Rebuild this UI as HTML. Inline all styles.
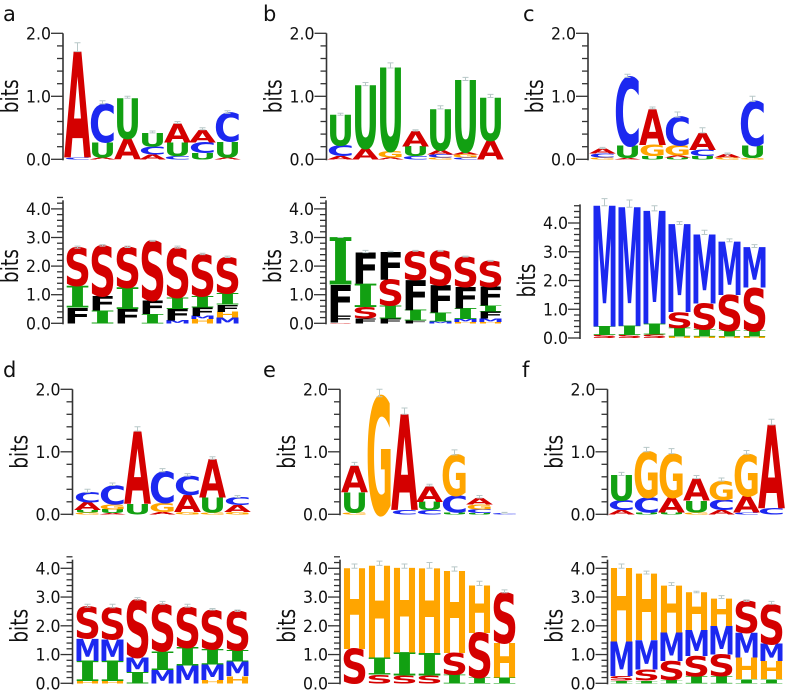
<!DOCTYPE html>
<html><head><meta charset="utf-8">
<style>
html,body{margin:0;padding:0;background:#fff;}
svg{display:block;}
</style></head>
<body>
<svg id="fig" width="785" height="691" viewBox="0 0 785 691" xmlns="http://www.w3.org/2000/svg"></svg>
<script>
// ---- data: letters (bottom -> top), heights in bits, error-bar tops ----
const aRnaLetters = [["C","A"],["A","U","C"],["A","U"],["A","C","U"],["C","U","A"],["U","C","A"],["A","U","C"]];
const aRnaHeights = [[.03,1.68],[.03,.24,.61],[.33,.64],[.08,.12,.22],[.05,.22,.3],[.1,.17,.2],[.03,.25,.45]];
const aRnaErr = [1.85,.93,1.0,.45,.6,.5,.77];
const aStrLetters = [["F","I","S"],["I","F","S"],["F","I","S"],["I","F","S"],["M","F","I","S"],["H","M","F","I","S"],["M","H","F","I","S"]];
const aStrHeights = [[.55,.75,1.33],[.45,.5,1.75],[.5,.75,1.4],[.33,.47,2.07],[.1,.4,.4,1.73],[.15,.1,.3,.4,1.45],[.2,.2,.25,.4,1.25]];
const aStrErr = [2.7,2.75,2.7,2.9,2.7,2.45,2.35];

const bRnaLetters = [["A","C","U"],["A","U"],["A","G","U"],["C","U","A"],["G","C","A","U"],["C","G","A","U"],["A","U"]];
const bRnaHeights = [[.05,.17,.48],[.17,1.0],[.03,.1,1.32],[.05,.15,.25],[.03,.05,.07,.65],[.03,.05,.04,1.13],[.3,.68]];
const bRnaErr = [.73,1.22,1.53,.47,.85,1.3,1.03];
const bStrLetters = [["S","F","F","I"],["F","S","I","F"],["F","I","S","F"],["F","I","F","S"],["M","I","F","S"],["H","M","I","F","S"],["H","M","F","I","F","S"]];
const bStrHeights = [[.03,.25,1.07,1.65],[.17,.4,.8,1.1],[.17,.45,.9,.98],[.1,.37,1.05,1.0],[.07,.3,.95,1.2],[.05,.1,.37,.75,1.05],[.05,.12,.25,.2,.65,.9]];
const bStrErr = [3.0,2.55,2.52,2.55,2.55,2.35,2.2];

const cRnaLetters = [["G","C","A"],["A","U","C"],["U","G","A"],["U","A","G","C"],["U","C","A"],["G","A"],["G","U","C"]];
const cRnaHeights = [[.03,.06,.08],[.02,.2,1.08],[.05,.18,.57],[.03,.03,.16,.45],[.05,.1,.27],[.03,.05],[.02,.2,.7]];
const cRnaErr = [.19,1.35,.83,.75,.5,.1,1.0];
const cStrLetters = [["S","I","M"],["S","I","M"],["S","I","M"],["H","I","S","M"],["H","I","S","M"],["H","I","S","M"],["H","I","S","M"]];
const cStrHeights = [[.1,.3,4.2],[.1,.32,4.13],[.12,.38,3.92],[.05,.3,.55,3.05],[.05,.25,.9,2.4],[.05,.2,1.25,1.85],[.05,.2,1.5,1.4]];
const cStrErr = [4.85,4.8,4.6,4.05,3.75,3.45,3.25];

const dRnaLetters = [["G","U","A","C"],["A","U","G","C"],["U","A"],["A","G","C"],["G","A","C"],["G","U","A"],["G","A","C"]];
const dRnaHeights = [[.03,.04,.12,.16],[.02,.06,.08,.3],[.17,1.16],[.04,.14,.5],[.04,.27,.3],[.03,.24,.61],[.04,.11,.12]];
const dRnaErr = [.4,.5,1.4,.73,.65,.92,.3];
const dStrLetters = [["H","I","M","S"],["H","I","M","S"],["I","M","S"],["M","I","S"],["M","I","S"],["H","M","I","S"],["H","M","I","S"]];
const dStrHeights = [[.08,.7,.77,1.1],[.08,.7,.75,1.1],[.4,.5,2.0],[.47,.65,1.63],[.62,.63,1.4],[.12,.53,.55,1.35],[.25,.5,.4,1.35]];
const dStrErr = [2.75,2.75,2.98,2.85,2.75,2.6,2.55];

const eRnaLetters = [["G","U","A"],["G"],["C","A"],["C","U","A"],["U","C","G"],["U","C","G","A"],["C"]];
const eRnaHeights = [[.03,.32,.43],[1.88],[.07,1.53],[.07,.13,.25],[.03,.27,.65],[.02,.06,.08,.1],[.02]];
const eRnaErr = [.83,2.0,1.7,.48,1.03,.3,.03];
const eStrLetters = [["S","H"],["S","I","H"],["S","I","H"],["S","I","H"],["I","S","H"],["I","S","H"],["I","H","S"]];
const eStrHeights = [[1.2,2.8],[.3,.6,3.2],[.27,.8,2.93],[.27,.78,2.95],[.3,.75,2.85],[.2,1.55,1.65],[.2,1.2,1.75]];
const eStrErr = [4.15,4.25,4.15,4.2,4.05,3.55,3.25];

const fRnaLetters = [["A","C","U"],["U","C","G"],["U","A","G"],["G","U","A"],["A","C","G"],["C","A","G"],["C","A"]];
const fRnaHeights = [[.07,.15,.4],[.03,.24,.73],[.03,.24,.7],[.03,.19,.35],[.07,.16,.3],[.03,.26,.67],[.1,1.33]];
const fRnaErr = [.67,1.07,1.05,.62,.58,1.02,1.52];
const fStrLetters = [["I","S","M","H"],["I","S","M","H"],["I","S","M","H"],["I","S","M","H"],["I","S","M","H"],["I","H","M","S"],["I","H","M","S"]];
const fStrHeights = [[.1,.15,1.2,2.55],[.1,.38,1.02,2.3],[.12,.65,1.0,1.63],[.25,.7,.9,1.3],[.25,.75,1.0,.95],[.15,.75,.85,1.1],[.15,.62,.6,1.38]];
const fStrErr = [4.15,3.9,3.5,3.2,3.05,2.9,2.85];

const rnaTickLabels = ["0.0","1.0","2.0"];
const strTickLabels = ["0.0","1.0","2.0","3.0","4.0"];

const colors = {A:"#d40000",U:"#12a012",C:"#1c28f0",G:"#ffa500",S:"#d40000",I:"#12a012",F:"#000000",M:"#1c28f0",H:"#ffa500"};
const NS = "http://www.w3.org/2000/svg";
const svg = document.getElementById("fig");
const COLW = 25;

function el(tag, attrs, parent){
  const e = document.createElementNS(NS, tag);
  for (const k in attrs) e.setAttribute(k, attrs[k]);
  (parent||svg).appendChild(e);
  return e;
}

function drawLogo(name, axisX, x0, y0, ppb, axisTop, maxTick, labels, letters, heights, errs){
  const g = el("g", {});
  
  
  const yOf = v => y0 - v*ppb;
  const ax = el("line", {x1:axisX, x2:axisX, y1:y0+1, y2:yOf(axisTop), stroke:"#333", "stroke-width":1.6}, g);
  
  
  for (let i=0; i<=Math.round(axisTop*5); i++){
    const v = i/5;
    const major = (i%5===0);
    el("line", {x1:axisX-(major?12:6), x2:axisX, y1:yOf(v), y2:yOf(v), stroke:"#333", "stroke-width":1.3}, g);
  }
  labels.forEach((lab, i) => {
    const t = el("text", {x:axisX-12, y:yOf(i)+6, "text-anchor":"end", "font-family":"DejaVu Sans, Liberation Sans, sans-serif", "font-size":17, textLength:25, lengthAdjust:"spacingAndGlyphs", fill:"#111"}, g);
    t.textContent = lab;
    
    
  });
  const bt = el("text", {transform:`translate(${axisX-45},${(y0+yOf(maxTick))/2}) rotate(-90)`, "text-anchor":"middle", "font-family":"DejaVu Sans, Liberation Sans, sans-serif", "font-size":24, textLength:34, lengthAdjust:"spacingAndGlyphs", fill:"#111"}, g);
  bt.textContent = "bits";
  
  
  letters.forEach((col, ci) => {
    let base = 0;
    const x = x0 + ci*COLW;
    col.forEach((L, li) => {
      const h = heights[ci][li];
      const hp = h*ppb;
      if (hp > 0.3){
        const isI = (L === "I");
        const capH = isI ? 72.9 : 72.9;
        const sy = hp/capH;
        const t = el("text", {transform:`translate(${x-1},${yOf(base)}) scale(1,${sy})`, x:0, y:0, "font-family": isI ? "DejaVu Serif, Liberation Serif, serif" : "DejaVu Sans, Liberation Sans, sans-serif", "font-weight":"bold", "font-size":100, textLength:COLW+2, lengthAdjust:"spacingAndGlyphs", fill:colors[L]}, g);
        t.textContent = L;
        
        
      }
      base += h;
    });
    const cx = x + COLW/2;
    const eTop = yOf(errs[ci]), eBot = yOf(base);
    const eb = el("path", {d:`M${cx},${eTop}V${eBot}M${cx-3},${eTop}H${cx+3}M${cx-3},${eBot}H${cx+3}`, stroke:"#b8c8c8", "stroke-width":1, fill:"none"}, g);
    
    
  });
}

function panelLabel(txt, x, y){
  const t = el("text", {x:x, y:y, "font-family":"DejaVu Sans, Liberation Sans, sans-serif", "font-size":21, fill:"#111"});
  t.textContent = txt;
  
  
}

panelLabel("a", 3, 21); panelLabel("b", 263, 21); panelLabel("c", 523, 21);
panelLabel("d", 3, 377); panelLabel("e", 263, 377); panelLabel("f", 522, 377);

drawLogo("panel-a-rna-logo", 63, 65, 159.3, 63, 2.0, 2, rnaTickLabels, aRnaLetters, aRnaHeights, aRnaErr);
drawLogo("panel-a-structure-logo", 63, 65, 323.3, 28.6, 4.3, 4, strTickLabels, aStrLetters, aStrHeights, aStrErr);
drawLogo("panel-b-rna-logo", 326.5, 328, 159.3, 63, 2.0, 2, rnaTickLabels, bRnaLetters, bRnaHeights, bRnaErr);
drawLogo("panel-b-structure-logo", 326, 328, 323.3, 28.6, 4.3, 4, strTickLabels, bStrLetters, bStrHeights, bStrErr);
drawLogo("panel-c-rna-logo", 588, 590, 159.3, 63, 2.0, 2, rnaTickLabels, cRnaLetters, cRnaHeights, cRnaErr);
drawLogo("panel-c-structure-logo", 580, 592, 338, 28.75, 4.65, 4, strTickLabels, cStrLetters, cStrHeights, cStrErr);
drawLogo("panel-d-rna-logo", 72.5, 75, 514.3, 62.5, 2.0, 2, rnaTickLabels, dRnaLetters, dRnaHeights, dRnaErr);
drawLogo("panel-d-structure-logo", 72.5, 75, 683.3, 28.75, 4.3, 4, strTickLabels, dStrLetters, dStrHeights, dStrErr);
drawLogo("panel-e-rna-logo", 340, 342, 514.3, 62.5, 2.0, 2, rnaTickLabels, eRnaLetters, eRnaHeights, eRnaErr);
drawLogo("panel-e-structure-logo", 340, 342, 683.3, 28.75, 4.3, 4, strTickLabels, eStrLetters, eStrHeights, eStrErr);
drawLogo("panel-f-rna-logo", 607.5, 609, 514.3, 62.5, 2.0, 2, rnaTickLabels, fRnaLetters, fRnaHeights, fRnaErr);
drawLogo("panel-f-structure-logo", 607.5, 609, 683.3, 28.75, 4.3, 4, strTickLabels, fStrLetters, fStrHeights, fStrErr);
</script>
</body></html>
